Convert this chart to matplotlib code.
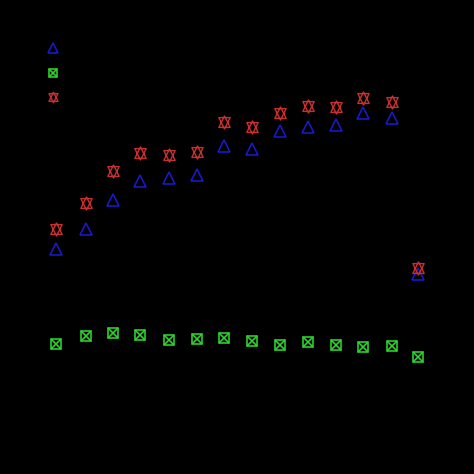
import matplotlib
matplotlib.use("Agg")
import numpy as np
import matplotlib.pyplot as plt
from matplotlib.lines import Line2D
from matplotlib.path import Path

# Data
x = [1.00, 2.06, 3.06, 4.02, 5.04, 6.06, 7.02, 8.04, 9.03, 10.06, 11.06, 12.02, 13.08, 14.00]
blue_vals = [46.9, 52.0, 59.8, 64.8, 65.5, 66.4, 74.0, 73.2, 78.0, 79.1, 79.5, 82.7, 81.3, 40.2]
green_vals = [21.9, 23.8, 24.6, 24.2, 22.9, 23.0, 23.4, 22.5, 21.6, 22.4, 21.6, 20.9, 21.2, 18.4]
red_vals = [52.0, 58.9, 67.5, 72.1, 71.6, 72.4, 80.3, 78.9, 82.6, 84.6, 84.3, 86.7, 85.5, 41.8]
labels = ["Series 1", "Series 2", "Series 3"]

BLUE = "#1a1acc"
GREEN = "#2ed62e"
RED = "#c83030"

# "triangles point-up and point-down" marker
T0 = np.sqrt(4 * np.pi / (3 * np.sqrt(3)))
T1 = T0 * np.sqrt(3) / 2
T2 = T0 / 2
r = T0
yc = 0.5 * (T2 + T0)
xc = T1
verts = [(0, r), (xc, -yc), (-xc, -yc), (0, r),
         (0, -r), (xc, yc), (-xc, yc), (0, -r)]
codes = ([Path.MOVETO] + [Path.LINETO] * 2 + [Path.CLOSEPOLY]) * 2
STAR = Path(verts, codes)

fig = plt.figure(figsize=(4.74, 4.74), dpi=100, facecolor="black")
ax = fig.add_axes([0.1, 0.1, 0.8, 0.8], facecolor="black")

lw = 1.15
ax.plot(x, blue_vals, ls="none", marker="^", ms=8.8, mfc="none", mec=BLUE, mew=lw)
ax.plot(x, green_vals, ls="none", marker="s", ms=7.5, mfc="none", mec=GREEN, mew=lw)
ax.plot(x, green_vals, ls="none", marker="x", ms=7.5, mfc="none", mec=GREEN, mew=lw)
ax.plot(x, red_vals, ls="none", marker=STAR, ms=9.4, mfc="none", mec=RED, mew=1.0)

ax.set_xlim(0.691, 14.309)
ax.set_ylim(0, 100)
for s in ax.spines.values():
    s.set_color("black")
ax.tick_params(colors="black")

hb = Line2D([], [], ls="none", marker="^", ms=7, mfc="none", mec=BLUE, mew=lw)
hg1 = Line2D([], [], ls="none", marker="s", ms=6.0, mfc="none", mec=GREEN, mew=lw)
hg2 = Line2D([], [], ls="none", marker="x", ms=6.0, mfc="none", mec=GREEN, mew=lw)
hr = Line2D([], [], ls="none", marker=STAR, ms=7.5, mfc="none", mec=RED, mew=1.0)
leg = fig.legend([hb, (hg1, hg2), hr], labels, loc="upper left",
                 bbox_to_anchor=(0.071, 0.938), frameon=False, handlelength=1.0,
                 labelspacing=0.76, fontsize=10, labelcolor="black")

fig.savefig("out.png", dpi=100, facecolor="black")
